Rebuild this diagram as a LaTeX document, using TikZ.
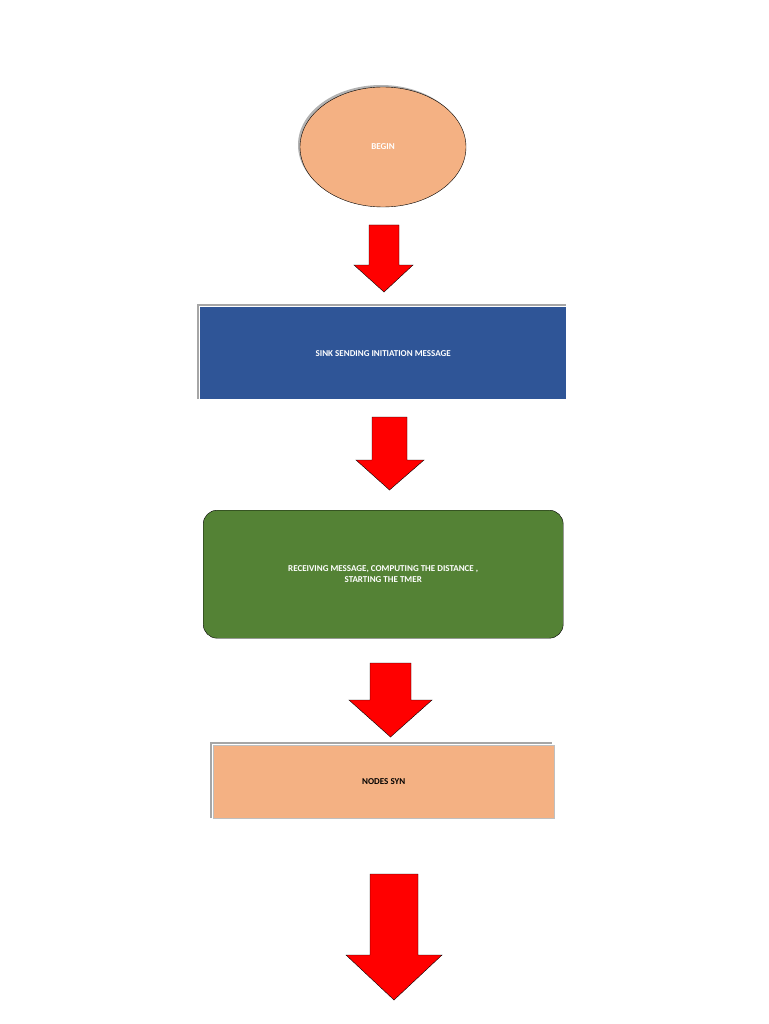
\documentclass[tikz,border=0pt]{standalone}
\usepackage{fontspec}
\setmainfont{Carlito}
\usetikzlibrary{shapes.geometric}
\definecolor{peach}{HTML}{F4B183}
\definecolor{blueb}{HTML}{2F5597}
\definecolor{greenb}{HTML}{548235}
\definecolor{redarr}{HTML}{FF0000}
\tikzset{
  arr/.style={fill=redarr,draw=black,line width=0.4pt},
  lbl/.style={font=\bfseries\fontsize{9}{11}\selectfont,align=center},
  shadowline/.style={draw=gray!70,line width=1.5pt}
}
\begin{document}
\begin{tikzpicture}[x=1pt,y=-1pt]
\useasboundingbox (0,0) rectangle (768,1024);
% begin
\fill[gray!60] (381,145) ellipse (83 and 60);
\node[ellipse,draw=black,fill=peach,minimum width=166,minimum height=120,inner sep=0,lbl,text=white] (begin) at (383,147) {BEGIN};
% arrows
\newcommand{\redarrow}[7]{\draw[arr] (#1,#3) -- (#2,#3) -- (#2,#4) -- (#6,#4) -- ({(#1+#2)/2},#7) -- (#5,#4) -- (#1,#4) -- cycle;}
\redarrow{369}{399}{225}{265}{354}{413}{292}
\redarrow{372}{407}{417}{460}{356}{424}{490}
\redarrow{370}{411}{663}{700}{349}{432}{737}
\redarrow{370}{418}{874}{955}{346}{442}{1000}
% blue
\draw[shadowline] (198,399) -- (198,305) -- (566,305);
\node[rectangle,fill=blueb,minimum width=366,minimum height=92,inner sep=0,lbl,text=white,anchor=north west] (sink) at (200,307) {SINK SENDING INITIATION MESSAGE};
% green
\node[rectangle,rounded corners=14,draw=black,fill=greenb,minimum width=360,minimum height=128,inner sep=0,lbl,text=white,anchor=north west] (recv) at (203,510) {RECEIVING MESSAGE, COMPUTING THE DISTANCE ,\\STARTING THE TMER};
% nodes syn
\draw[shadowline] (211,818) -- (211,743) -- (552,743);
\node[rectangle,draw=gray!50,fill=peach,minimum width=341,minimum height=73,inner sep=0,lbl,text=black,anchor=north west] (syn) at (213,745) {NODES SYN};
\end{tikzpicture}
\end{document}
